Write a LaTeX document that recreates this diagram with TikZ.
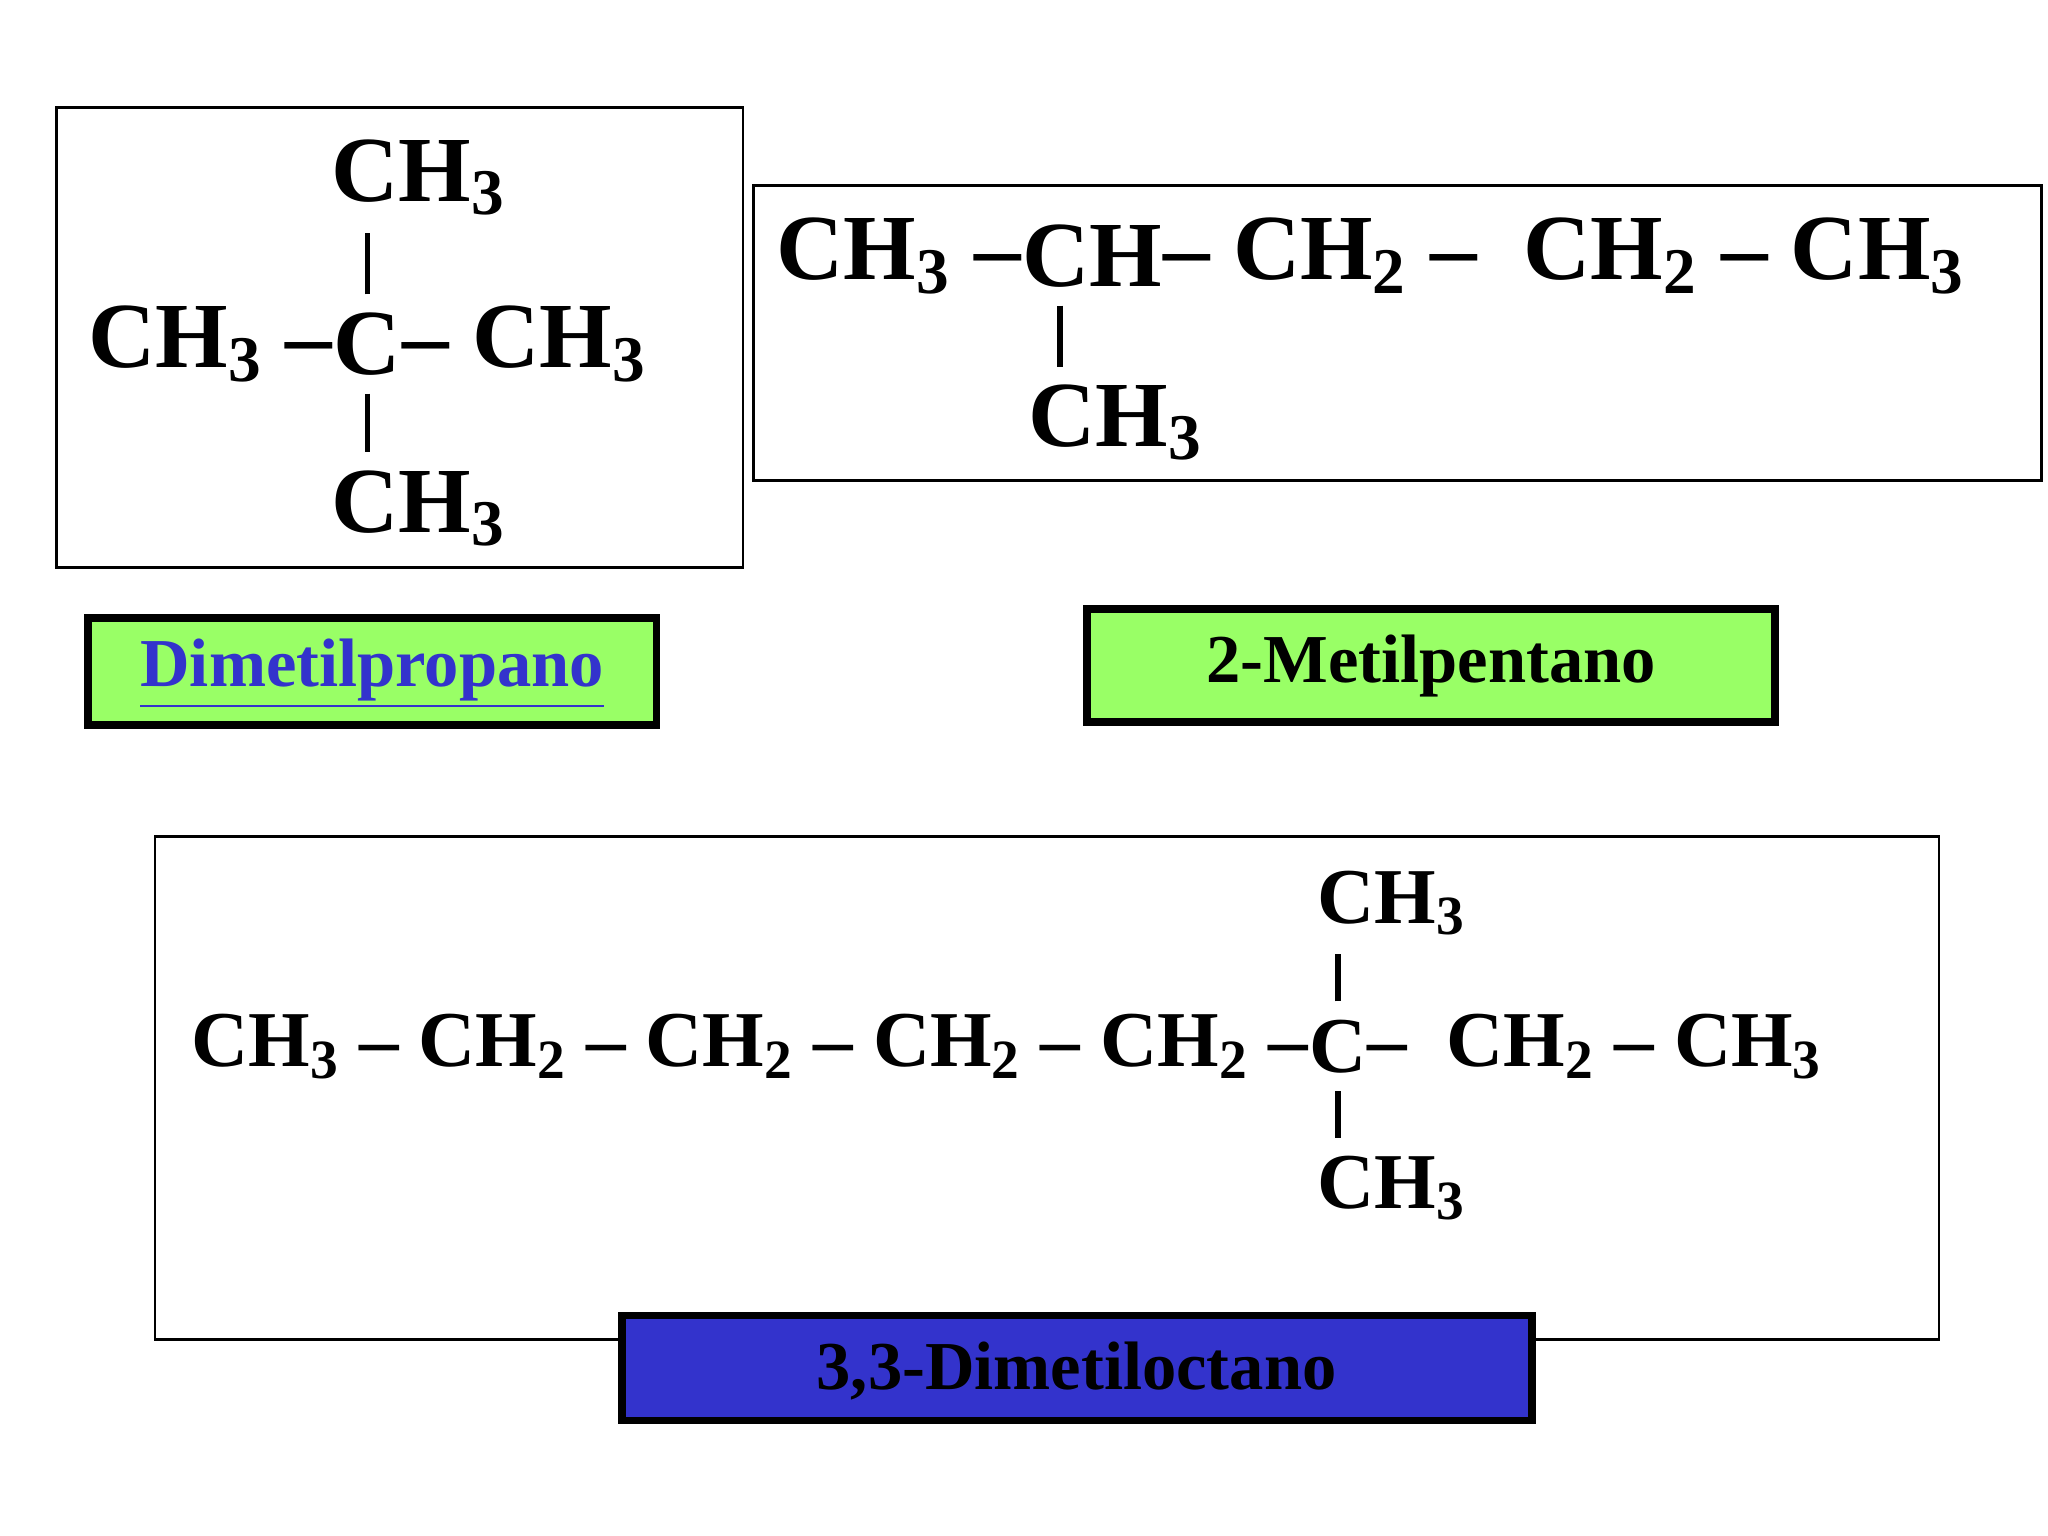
\documentclass[tikz,border=0pt]{standalone}
\usepackage{fontspec}
\setmainfont{Liberation Serif}
\usetikzlibrary{positioning}
\definecolor{limegreen}{HTML}{99FF66}
\definecolor{royal}{HTML}{3333CC}
\definecolor{linkblue}{HTML}{3333CC}
\newcommand{\sub}[1]{\textsubscript{#1}}
\tikzset{
  formbox/.style={draw, line width=0.8pt},
  namebox/.style={draw, line width=2.2pt, fill=limegreen},
  big/.style={font=\fontsize{26.5}{28}\selectfont\bfseries, inner sep=0pt},
  mid/.style={font=\fontsize{22.5}{24}\selectfont\bfseries, inner sep=0pt},
  lbl/.style={font=\fontsize{19.5}{21}\selectfont\bfseries},
  bond/.style={line width=1.6pt, shorten >=5pt, shorten <=5pt}
}
\begin{document}
\begin{tikzpicture}[x=0.01313cm, y=-0.01313cm]
\useasboundingbox (0,0) rectangle (1560,1170);

% dimetilpropano
\draw [formbox] (43,82) rectangle (566,432) ;
\node [big] (c1) at (280,262) {C};
\node [big, anchor=east] (c1l) at (c1.west) {CH\sub{3} -- };
\node [big, anchor=west] (c1r) at (c1.east) { -- CH\sub{3}};
\node [big, anchor=west] (c1t) at (252,135) {CH\sub{3}};
\node [big, anchor=west] (c1b) at (252,387) {CH\sub{3}};
\draw [bond] (c1.north) -- (c1.north |- c1t.south) ;
\draw [bond] (c1.south) -- (c1.south |- c1b.north) ;
\draw [namebox] (67,471) rectangle (500,552) ;
\node [lbl, text=linkblue] at (283.5,513) {\underline{Dimetilpropano}};

% 2-metilpentano
\draw [formbox] (574,141) rectangle (1555,366) ;
\node [big, anchor=west] (c2l) at (591,195) {CH\sub{3} -- };
\node [big, anchor=west] (c2) at (c2l.east) {CH};
\node [big, anchor=west] (c2r) at (c2.east) { -- CH\sub{2} --\ \ CH\sub{2} -- CH\sub{3}};
\node [big, anchor=west] (c2b) at (783,322) {CH\sub{3}};
\draw [bond] ([xshift=-9pt]c2.south) -- ([xshift=-9pt]c2.south |- c2b.north) ;
\draw [namebox] (828,464) rectangle (1352,550) ;
\node [lbl] at (1090,507) {2-Metilpentano};

% 3,3-dimetiloctano
\draw [formbox] (118,637) rectangle (1477,1020) ;
\node [mid] (c3) at (1019,797) {C};
\node [mid, anchor=east] (c3l) at (c3.west) {CH\sub{3} -- CH\sub{2} -- CH\sub{2} -- CH\sub{2} -- CH\sub{2} -- };
\node [mid, anchor=west] (c3r) at (c3.east) { --\ \ CH\sub{2} -- CH\sub{3}};
\node [mid, anchor=west] (c3t) at (1003,688) {CH\sub{3}};
\node [mid, anchor=west] (c3b) at (1003,905) {CH\sub{3}};
\draw [bond] (c3.north) -- (c3.north |- c3t.south) ;
\draw [bond] (c3.south) -- (c3.south |- c3b.north) ;
\draw [namebox, fill=royal] (474,1002) rectangle (1167,1082) ;
\node [lbl] at (820,1044) {3,3-Dimetiloctano};

\end{tikzpicture}
\end{document}
